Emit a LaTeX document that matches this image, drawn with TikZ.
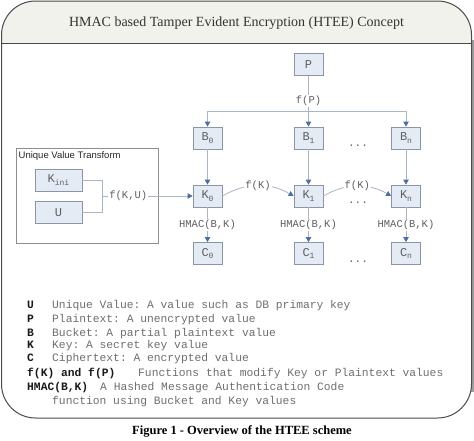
\documentclass[tikz,border=0pt]{standalone}
\usepackage{fontspec}
\setmainfont{Liberation Serif}
\setsansfont{Liberation Sans}
\setmonofont{Liberation Mono}
\usetikzlibrary{arrows.meta}
\definecolor{boxfill}{HTML}{E5EBF5}
\definecolor{boxdraw}{HTML}{8A96A8}
\definecolor{connc}{HTML}{A8B5C7}
\definecolor{tipc}{HTML}{4A6FA5}
\definecolor{txt}{HTML}{606060}
\definecolor{desccol}{HTML}{6E6E6E}
\definecolor{framec}{HTML}{4A4A4A}
\definecolor{hdr}{HTML}{F2F2EC}
\definecolor{uvtc}{HTML}{8E8E8E}
\newcommand{\sbs}[1]{\raisebox{-2.2pt}{\fontsize{8}{8}\selectfont #1}}
\begin{document}
\begin{tikzpicture}[x=1pt,y=-1pt,
  box/.style={draw=boxdraw, fill=boxfill, line width=0.8pt, minimum width=29pt, minimum height=22pt, inner sep=0pt, font=\fontsize{12}{12}\selectfont\ttfamily, text=txt},
  wbox/.style={box, minimum width=47pt},
  conn/.style={draw=connc, line width=0.8pt},
  arr/.style={conn, -{Triangle[length=5pt,width=5.5pt,color=tipc]}},
  lbl/.style={fill=white, inner sep=1pt, font=\fontsize{10.5}{10.5}\selectfont\ttfamily, text=txt},
  dotsn/.style={font=\fontsize{11}{11}\selectfont\ttfamily, text=txt, inner sep=0pt},
  keyt/.style={anchor=base west, inner sep=0pt, font=\fontsize{11.3}{11.3}\selectfont\ttfamily\bfseries, text=black!90},
  desc/.style={anchor=base west, inner sep=0pt, font=\fontsize{11.3}{11.3}\selectfont\ttfamily, text=desccol},
]
\useasboundingbox (0,0) rectangle (474,440);
% frame
\begin{scope}
\clip[rounded corners=34pt] (1.5,1) rectangle (471.5,418);
\fill[hdr] (0,0) rectangle (474,43);
\end{scope}
\draw[line width=2.2pt, gray!75] (472.5,40) -- (472.5,392);
\draw[framec, line width=1pt, rounded corners=34pt] (1.5,1) rectangle (471.5,418);
\draw[framec, line width=1pt] (1.5,43) -- (471.5,43);
\node[font=\fontsize{14}{14}\selectfont, text=black!80] (title) at (236.5,23) {HMAC based Tamper Evident Encryption (HTEE) Concept};

% unique value transform
\draw[uvtc, line width=0.8pt] (16,148) rectangle (158,243);
\node[anchor=north west, inner sep=0pt, font=\sffamily\fontsize{9.5}{9.5}\selectfont, text=black!85] (uvt) at (18.5,151.5) {Unique Value Transform};
\node[wbox] (Kini) at (58.5,180) {K\sbs{ini}};
\node[wbox] (U) at (58.5,212.5) {U};

% main nodes
\node[box] (P) at (308.5,64.5) {P};
\node[box] (B0) at (207.5,138) {B\sbs{0}};
\node[box] (B1) at (308.5,138) {B\sbs{1}};
\node[box] (Bn) at (406,138) {B\sbs{n}};
\node[box] (K0) at (207.5,196) {K\sbs{0}};
\node[box] (K1) at (308.5,196) {K\sbs{1}};
\node[box] (Kn) at (406,196) {K\sbs{n}};
\node[box] (C0) at (207.5,253.5) {C\sbs{0}};
\node[box] (C1) at (308.5,253.5) {C\sbs{1}};
\node[box] (Cn) at (406,253.5) {C\sbs{n}};
\node[dotsn] (d1) at (358,146) {...};
\node[dotsn] (d2) at (358,203) {...};
\node[dotsn] (d3) at (358,262) {...};

% connectors
\coordinate (h) at (308.5,111);
\draw[conn] (P.south) -- node[lbl, pos=0.72] {f(P)} (h);
\draw[arr] (h) -| (B0.north);
\draw[arr] (h) -| (Bn.north);
\draw[arr] (h) -- (B1.north);
\draw[arr] (B0) -- (K0);
\draw[arr] (B1) -- (K1);
\draw[arr] (Bn) -- (Kn);
\draw[arr] (K0) -- node[lbl] {HMAC(B,K)} (C0);
\draw[arr] (K1) -- node[lbl] {HMAC(B,K)} (C1);
\draw[arr] (Kn) -- node[lbl] {HMAC(B,K)} (Cn);
\draw[arr] (K0.east) to[bend left=30] node[lbl] {f(K)} (K1.west);
\draw[arr] (K1.east) to[bend left=30] node[lbl] {f(K)} (Kn.west);
\coordinate (j) at (102,196);
\draw[conn] (Kini.east) -| (j);
\draw[conn] (U.east) -| (j);
\draw[arr] (j) -- node[lbl, pos=0.29] {f(K,U)} (K0.west);

% legend
\node[keyt] (kU) at (27,308.5) {U};
\node[desc] (tU) at (52,308.5) {Unique Value: A value such as DB primary key};
\node[keyt] (kP) at (27,322.5) {P};
\node[desc] (tP) at (52,322.5) {Plaintext: A unencrypted value};
\node[keyt] (kB) at (27,336) {B};
\node[desc] (tB) at (52,336) {Bucket: A partial plaintext value};
\node[keyt] (kK) at (27,348.5) {K};
\node[desc] (tK) at (52,348.5) {Key: A secret key value};
\node[keyt] (kC) at (27,361.5) {C};
\node[desc] (tC) at (52,361.5) {Ciphertext: A encrypted value};
\node[keyt] (kF) at (27,376) {f(K) and f(P)};
\node[desc] (tF) at (138,376) {Functions that modify Key or Plaintext values};
\node[keyt] (kH) at (27,390) {HMAC(B,K)};
\node[desc] (tH) at (100,390) {A Hashed Message Authentication Code};
\node[desc] (tH2) at (52,404) {function using Bucket and Key values};

% caption
\node[font=\fontsize{12.5}{12.5}\selectfont\bfseries] (cap) at (242,431) {Figure 1 - Overview of the HTEE scheme};
\end{tikzpicture}
\end{document}
